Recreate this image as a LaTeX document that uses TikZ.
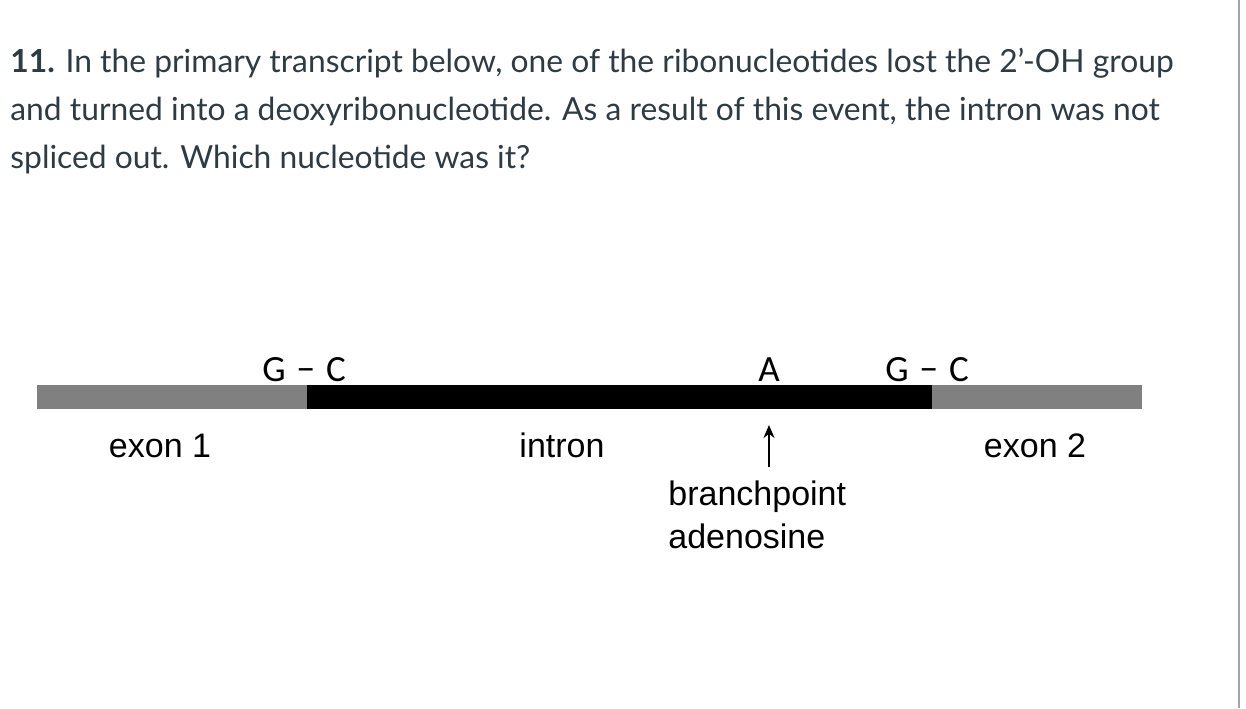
\documentclass[tikz,border=0pt]{standalone}
\usepackage{fontspec}
\setmainfont{Lato}
\newfontfamily\labelfont{Liberation Sans}
\newfontfamily\ntfont{Carlito}
\usetikzlibrary{arrows.meta}
\definecolor{canvasText}{HTML}{2D3B45}
\definecolor{exonGray}{HTML}{808080}
\definecolor{frameGray}{HTML}{A5A5A5}

\begin{document}
\begin{tikzpicture}[x=0.5pt, y=-0.5pt,
	question/.style={anchor=base west, inner sep=0pt, text=canvasText, font=\fontsize{15.9}{24}\selectfont},
	seglabel/.style={anchor=base, inner sep=0pt, font=\labelfont\fontsize{17}{21}\selectfont},
	ntlabel/.style={anchor=base, inner sep=0pt, font=\ntfont\fontsize{18.5}{22}\selectfont},
	bparrow/.style={-{Stealth[length=6.5pt, width=5.5pt]}, line width=1pt}]
	\useasboundingbox (0, 0) rectangle (1246, 708);
	% Question text:
	\node[question](Q1) at (10, 72){\textbf{11.} In the primary transcript below, one of the ribonucleotides lost the 2’-OH group};
	\node[question](Q2) at (10, 120){and turned into a deoxyribonucleotide. As a result of this event, the intron was not};
	\node[question](Q3) at (10, 168){spliced out. Which nucleotide was it?};
	% Transcript bar:
	\fill[exonGray] (37, 385) rectangle (1142, 409);
	\fill[black] (307, 385) rectangle (932, 409);
	% Nucleotides over the bar:
	\node[ntlabel](GC1) at (304, 381){G\hspace{5.5pt}−\hspace{5.5pt}C};
	\node[ntlabel](BPA) at (769, 381){A};
	\node[ntlabel](GC2) at (927, 381){G\hspace{5.5pt}−\hspace{5.5pt}C};
	% Segment labels:
	\node[seglabel](EX1) at (160, 457){exon 1};
	\node[seglabel](INT) at (562, 457){intron};
	\node[seglabel](EX2) at (1035, 457){exon 2};
	\node[seglabel, anchor=base west](BP1) at (668, 505){branchpoint};
	\node[seglabel, anchor=base west](BP2) at (668, 548){adenosine};
	\coordinate (BPtail) at (769, 467);
	\coordinate (BPtip) at (769, 425);
	\draw[bparrow] (BPtail) -- (BPtip);
	% Page edge:
	\draw[frameGray, line width=1pt] (1238.5, 0) -- (1238.5, 708);
\end{tikzpicture}
\end{document}
